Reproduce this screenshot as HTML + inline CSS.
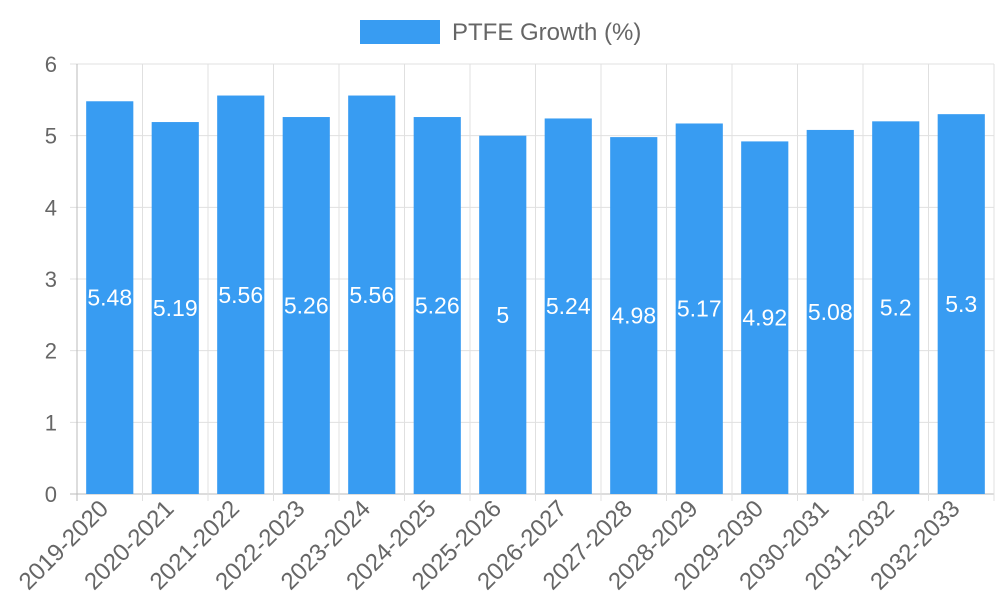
<!DOCTYPE html>
<html><head><meta charset="utf-8"><style>
body{margin:0;background:#fff;width:1000px;height:600px;overflow:hidden}
text{font-family:"Liberation Sans",sans-serif}
</style></head><body>
<svg id="chart" width="1000" height="600">
<g>
<rect x="360" y="20" width="80" height="24" fill="#389cf2"/>
<text x="452" y="40" font-size="24" fill="#666">PTFE Growth (%)</text>
</g>
<g id="grid"></g><g id="bars"></g><g id="labels"></g>
</svg>
<script>
const categories=["2019-2020","2020-2021","2021-2022","2022-2023","2023-2024","2024-2025","2025-2026","2026-2027","2027-2028","2028-2029","2029-2030","2030-2031","2031-2032","2032-2033"];
const values=[5.48,5.19,5.56,5.26,5.56,5.26,5,5.24,4.98,5.17,4.92,5.08,5.2,5.3];
const yTicks=[0,1,2,3,4,5,6];
const NS="http://www.w3.org/2000/svg";
const L=77,R=994,T=64,B=494,yMax=6;
const band=(R-L)/categories.length;
const y=v=>B-(v/yMax)*(B-T);
const x=i=>L+i*band;
function mk(tag,attrs,parent){const e=document.createElementNS(NS,tag);for(const k in attrs)e.setAttribute(k,attrs[k]);parent.appendChild(e);return e;}
const grid=document.getElementById('grid'),bars=document.getElementById('bars'),labels=document.getElementById('labels');
yTicks.forEach(t=>{
 const l=mk('line',{x1:70,x2:R,y1:y(t),y2:y(t),stroke:t===0?'#bbb':'#e0e0e0','stroke-width':1},grid);
 
 
 const tx=mk('text',{x:57,y:y(t)+8,'font-size':22,fill:'#666','text-anchor':'end'},grid);
 tx.textContent=t;
 
 
});
for(let i=0;i<=categories.length;i++){
 const l=mk('line',{x1:x(i),x2:x(i),y1:T,y2:B+7,stroke:i===0?'#bbb':'#e0e0e0','stroke-width':1},grid);
 
 
}
categories.forEach((c,i)=>{
 const bw=band*0.72,bx=x(i)+(band-bw)/2;
 const r=mk('rect',{x:bx,y:y(values[i]),width:bw,height:B-y(values[i]),fill:'#389cf2'},bars);
 
 
 const v=mk('text',{x:x(i)+band/2,y:(y(values[i])+B)/2+8,'font-size':23,fill:'#fff','text-anchor':'middle'},labels);
 v.textContent=values[i];
 
 
 const cx=x(i)+band/2,cy=B+16;
 const t=mk('text',{x:cx,y:cy,'font-size':24,fill:'#666','text-anchor':'end',transform:`rotate(-45 ${cx} ${cy})`},labels);
 t.textContent=c;
 
 
});
</script>
</body></html>
